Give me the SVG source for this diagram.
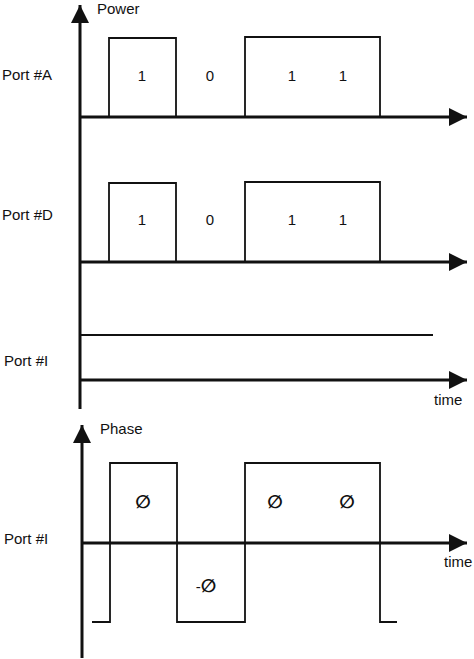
<svg xmlns="http://www.w3.org/2000/svg" width="474" height="659" viewBox="0 0 474 659">
<style>
text{font-family:"Liberation Sans",Arial,sans-serif;font-size:15px;fill:#111}
.c{text-anchor:middle}
.phi{font-family:"DejaVu Sans",sans-serif;font-size:18px;font-style:italic;font-weight:bold}
.n{font-family:"Liberation Sans",Arial,sans-serif;font-weight:normal;font-style:normal;font-size:15px}
.ax{stroke:#111;stroke-width:3;fill:none}
.sig{stroke:#111;stroke-width:1.8;fill:none}
</style>
<defs>
<marker id="ah" markerWidth="6" markerHeight="6" refX="6" refY="3" orient="auto" markerUnits="strokeWidth">
<path d="M0,0 L6,3 L0,6 Z" fill="#111"/>
</marker>
</defs>
<rect width="474" height="659" fill="#fff"/>
<g id="connectors">
<line class="ax" x1="80" y1="409" x2="80" y2="5" marker-end="url(#ah)"/>
<line class="ax" x1="80" y1="117" x2="467" y2="117" marker-end="url(#ah)"/>
<line class="ax" x1="80" y1="262" x2="467" y2="262" marker-end="url(#ah)"/>
<line class="ax" x1="80" y1="380" x2="467" y2="380" marker-end="url(#ah)"/>
<line class="ax" x1="82" y1="658" x2="82" y2="425" marker-end="url(#ah)"/>
<line class="ax" x1="82" y1="543" x2="467" y2="543" marker-end="url(#ah)"/>
</g>
<g id="labels">
<text x="97" y="14">Power</text>
<text x="2" y="80">Port #A</text>
<text x="2" y="220">Port #D</text>
<text x="4" y="366">Port #I</text>
<text x="434" y="405">time</text>
<text x="100" y="434">Phase</text>
<text x="4" y="544">Port #I</text>
<text x="444" y="567">time</text>
</g>
<g id="portA">
<polyline class="sig" points="109,117 109,38 176,38 176,117"/>
<polyline class="sig" points="245,117 245,37 380,37 380,117"/>
<text class="c" x="142" y="81">1</text>
<text class="c" x="210" y="81">0</text>
<text class="c" x="292" y="81">1</text>
<text class="c" x="343" y="81">1</text>
</g>
<g id="portD">
<polyline class="sig" points="109,262 109,183 176,183 176,262"/>
<polyline class="sig" points="245,262 245,182 380,182 380,262"/>
<text class="c" x="142" y="225">1</text>
<text class="c" x="210" y="225">0</text>
<text class="c" x="292" y="225">1</text>
<text class="c" x="343" y="225">1</text>
</g>
<g id="portI">
<line class="sig" x1="80" y1="335" x2="433" y2="335"/>
</g>
<g id="phase">
<polyline class="sig" points="92,622 110,622 110,463 177,463 177,622 245,622 245,463 380,463 380,622 397,622"/>
<text class="c phi" x="143" y="508">∅</text>
<text class="c phi" x="275" y="508">∅</text>
<text class="c phi" x="347" y="508">∅</text>
<text class="c phi" x="206" y="592"><tspan class="n">-</tspan>∅</text>
</g>
</svg>
